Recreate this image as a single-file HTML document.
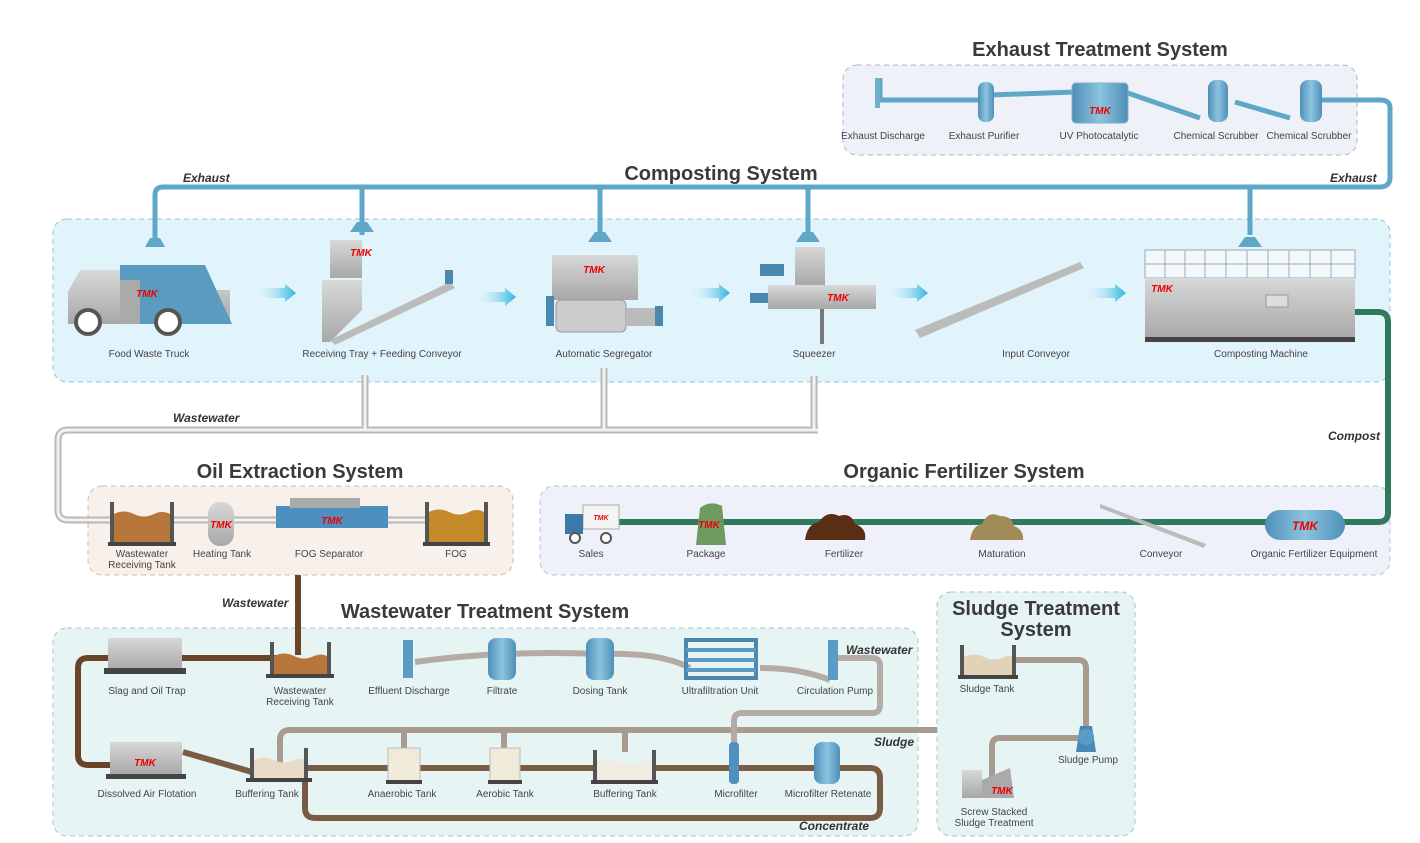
<!DOCTYPE html>
<html><head><meta charset="utf-8"><style>
html,body{margin:0;padding:0;background:#fff;}
svg{display:block;font-family:"Liberation Sans",sans-serif;}
.l{font-size:10px;fill:#444;text-anchor:middle;}
.t{font-size:20px;font-weight:bold;fill:#3a3a3a;text-anchor:middle;}
.p{font-size:12px;font-weight:bold;font-style:italic;fill:#333;}
.tmk{font-size:10px;font-weight:bold;font-style:italic;fill:#e00;text-anchor:middle;}
</style></head><body>
<svg width="1420" height="843" viewBox="0 0 1420 843" xmlns="http://www.w3.org/2000/svg">
<defs>
<linearGradient id="gr" x1="0" y1="0" x2="0" y2="1"><stop offset="0" stop-color="#d8d8d8"/><stop offset="1" stop-color="#a8a8a8"/></linearGradient>
<linearGradient id="bl" x1="0" y1="0" x2="1" y2="0"><stop offset="0" stop-color="#4f8fb8"/><stop offset=".5" stop-color="#8cc4e0"/><stop offset="1" stop-color="#4f8fb8"/></linearGradient>
<linearGradient id="ar" x1="0" y1="0" x2="1" y2="0"><stop offset="0" stop-color="#bfeaf7" stop-opacity="0"/><stop offset="1" stop-color="#2bb3de"/></linearGradient>
</defs>
<rect x="843" y="65" width="514" height="90" rx="14" fill="#eef1f8" stroke="#b0b8c4" stroke-dasharray="5,4"/>
<rect x="53" y="219" width="1337" height="163" rx="14" fill="#e1f3fb" stroke="#9fc0cf" stroke-dasharray="5,4"/>
<rect x="88" y="486" width="425" height="89" rx="14" fill="#f8f0ea" stroke="#d8b8a0" stroke-dasharray="5,4"/>
<rect x="540" y="486" width="850" height="89" rx="14" fill="#eef1f9" stroke="#b8c0d0" stroke-dasharray="5,4"/>
<rect x="53" y="628" width="865" height="208" rx="14" fill="#e7f4f4" stroke="#a8c4c4" stroke-dasharray="5,4"/>
<rect x="937" y="592" width="198" height="244" rx="14" fill="#e7f4f4" stroke="#a8c4c4" stroke-dasharray="5,4"/>
<text class="t" x="1100" y="56">Exhaust Treatment System</text>
<text class="t" x="721" y="180">Composting System</text>
<text class="t" x="300" y="478">Oil Extraction System</text>
<text class="t" x="964" y="478">Organic Fertilizer System</text>
<text class="t" x="485" y="618">Wastewater Treatment System</text>
<text class="t" x="1036" y="615">Sludge Treatment</text>
<text class="t" x="1036" y="636">System</text>
<g fill="none" stroke="#5ea7c7" stroke-width="5" stroke-linejoin="round">
<path d="M155 240 V195 Q155 187 163 187 H1380 Q1390 187 1390 177 V108 Q1390 100 1380 100 H1320"/>
<path d="M362 187V235 M600 187V235 M808 187V235 M1250 187V235"/>
<path d="M880 100 V78 M880 100 H985 M990 95 L1075 92 M1125 92 L1200 118 M1235 102 L1290 118"/>
</g>
<g fill="#5ea7c7">
<polygon points="145,247 165,247 160,238 150,238"/>
<polygon points="350,232 374,232 367,222 357,222"/>
<polygon points="588,242 612,242 605,232 595,232"/>
<polygon points="796,242 820,242 813,232 803,232"/>
<polygon points="1238,247 1262,247 1255,237 1245,237"/>
</g>
<rect x="875" y="78" width="5" height="30" fill="#6fb0cc"/>
<rect x="978" y="82" width="16" height="40" rx="7" fill="url(#bl)"/>
<rect x="1072" y="83" width="56" height="40" rx="4" fill="url(#bl)" stroke="#7fb0c8"/>
<text class="tmk" x="1100" y="114">TMK</text>
<rect x="1208" y="80" width="20" height="42" rx="8" fill="url(#bl)"/>
<rect x="1300" y="80" width="22" height="42" rx="8" fill="url(#bl)"/>
<text class="l" x="883" y="139">Exhaust Discharge</text>
<text class="l" x="984" y="139">Exhaust Purifier</text>
<text class="l" x="1099" y="139">UV Photocatalytic</text>
<text class="l" x="1216" y="139">Chemical Scrubber</text>
<text class="l" x="1309" y="139">Chemical Scrubber</text>
<text class="p" x="183" y="182">Exhaust</text>
<text class="p" x="1330" y="182">Exhaust</text>
<polygon points="68,292 80,270 120,270 120,290 230,290 230,324 68,324" fill="url(#gr)"/>
<polygon points="120,265 205,265 232,324 120,324" fill="#5a9cc0"/>
<polygon points="120,280 140,280 140,324 120,324" fill="#aaa"/>
<circle cx="88" cy="322" r="12" fill="#fff" stroke="#555" stroke-width="4"/>
<circle cx="168" cy="322" r="12" fill="#fff" stroke="#555" stroke-width="4"/>
<text class="tmk" x="147" y="297">TMK</text>
<rect x="330" y="240" width="32" height="38" fill="url(#gr)"/>
<polygon points="322,280 362,280 362,310 330,342 322,342" fill="url(#gr)"/>
<polygon points="330,340 450,282 455,288 335,345" fill="#bbb"/>
<rect x="445" y="270" width="8" height="14" fill="#4a88b0"/>
<text class="tmk" x="361" y="256">TMK</text>
<rect x="552" y="255" width="86" height="45" fill="url(#gr)"/>
<rect x="556" y="300" width="70" height="32" rx="5" fill="#ccc" stroke="#999"/>
<rect x="626" y="308" width="32" height="18" fill="#bbb"/>
<rect x="655" y="306" width="8" height="20" fill="#4a88b0"/>
<rect x="546" y="296" width="8" height="30" fill="#4a88b0"/>
<text class="tmk" x="594" y="273">TMK</text>
<rect x="795" y="247" width="30" height="38" fill="url(#gr)"/>
<rect x="768" y="285" width="108" height="24" fill="url(#gr)"/>
<rect x="760" y="264" width="24" height="12" fill="#4a88b0"/>
<rect x="750" y="293" width="18" height="10" fill="#4a88b0"/>
<rect x="820" y="309" width="4" height="35" fill="#777"/>
<text class="tmk" x="838" y="301">TMK</text>
<polygon points="915,330 1080,262 1084,268 920,338" fill="#bbb"/>
<rect x="1145" y="250" width="210" height="28" fill="#f3f8fb" stroke="#9ab"/>
<path d="M1145 264H1355 M1165 250V278 M1185 250V278 M1205 250V278 M1226 250V278 M1247 250V278 M1268 250V278 M1289 250V278 M1310 250V278 M1331 250V278" stroke="#9ab" fill="none"/>
<rect x="1145" y="278" width="210" height="60" fill="url(#gr)"/>
<rect x="1145" y="337" width="210" height="5" fill="#444"/>
<rect x="1266" y="295" width="22" height="12" fill="#ddd" stroke="#999"/>
<text class="tmk" x="1162" y="292">TMK</text>
<g fill="url(#ar)">
<polygon points="258,288 285,288 285,284 296,293 285,302 285,298 258,298"/>
<polygon points="478,292 505,292 505,288 516,297 505,306 505,302 478,302"/>
<polygon points="692,288 719,288 719,284 730,293 719,302 719,298 692,298"/>
<polygon points="890,288 917,288 917,284 928,293 917,302 917,298 890,298"/>
<polygon points="1088,288 1115,288 1115,284 1126,293 1115,302 1115,298 1088,298"/>
</g>
<text class="l" x="149" y="357">Food Waste Truck</text>
<text class="l" x="382" y="357">Receiving Tray + Feeding Conveyor</text>
<text class="l" x="604" y="357">Automatic Segregator</text>
<text class="l" x="814" y="357">Squeezer</text>
<text class="l" x="1036" y="357">Input Conveyor</text>
<text class="l" x="1261" y="357">Composting Machine</text>
<g fill="none" stroke-linejoin="round">
<path d="M365 375V430 M604 368V430 M814 376V430 M818 430H68 Q58 430 58 440 V510 Q58 520 68 520 H430" stroke="#b8b8b8" stroke-width="7"/>
<path d="M365 375V430 M604 368V430 M814 376V430 M818 430H68 Q58 430 58 440 V510 Q58 520 68 520 H430" stroke="#f2f2f2" stroke-width="3"/>
</g>
<text class="p" x="173" y="422">Wastewater</text>
<path d="M1355 312 H1378 Q1388 312 1388 322 V513 Q1388 522 1378 522 H592" fill="none" stroke="#2f7a5c" stroke-width="6"/>
<text class="p" x="1328" y="440">Compost</text>
<rect x="110" y="502" width="4" height="42" fill="#555"/><rect x="170" y="502" width="4" height="42" fill="#555"/>
<path d="M114 514 q10 -5 20 0 q10 5 20 0 q8 -4 16 0 V542 H114Z" fill="#b7773a"/>
<rect x="108" y="542" width="68" height="4" fill="#444"/>
<rect x="208" y="502" width="26" height="44" rx="12" fill="url(#gr)"/>
<text class="tmk" x="221" y="528">TMK</text>
<rect x="276" y="506" width="112" height="22" fill="#4d8fbf"/>
<rect x="290" y="498" width="70" height="10" fill="#aaa"/>
<text class="tmk" x="332" y="524">TMK</text>
<rect x="425" y="502" width="4" height="42" fill="#555"/><rect x="484" y="502" width="4" height="42" fill="#555"/>
<path d="M429 512 q10 -5 20 0 q10 5 20 0 q8 -4 15 0 V542 H429Z" fill="#c48a2a"/>
<rect x="423" y="542" width="67" height="4" fill="#444"/>
<text class="l" x="142" y="557">Wastewater</text><text class="l" x="142" y="568">Receiving Tank</text>
<text class="l" x="222" y="557">Heating Tank</text>
<text class="l" x="329" y="557">FOG Separator</text>
<text class="l" x="456" y="557">FOG</text>
<rect x="583" y="505" width="36" height="24" fill="#f5f5f5" stroke="#aaa"/>
<rect x="565" y="514" width="18" height="20" fill="#3c79a8"/>
<circle cx="575" cy="538" r="5" fill="#fff" stroke="#555" stroke-width="2"/><circle cx="606" cy="538" r="5" fill="#fff" stroke="#555" stroke-width="2"/>
<text class="tmk" x="601" y="520" style="font-size:7px">TMK</text>
<path d="M696 545 L700 508 Q710 500 722 506 L726 545Z" fill="#6e9a60"/>
<text class="tmk" x="709" y="528">TMK</text>
<path d="M805 540 q2 -16 14 -18 q8 -12 20 -6 q12 -4 16 8 q12 4 10 16Z" fill="#5a2e14"/>
<path d="M970 540 q2 -14 12 -16 q6 -14 18 -8 q12 0 14 10 q10 4 9 14Z" fill="#a08a58"/>
<polygon points="1100,504 1206,544 1204,548 1100,508" fill="#bbb"/>
<rect x="1265" y="510" width="80" height="30" rx="15" fill="url(#bl)"/>
<text class="tmk" x="1305" y="530" style="font-size:12px">TMK</text>
<text class="l" x="591" y="557">Sales</text>
<text class="l" x="706" y="557">Package</text>
<text class="l" x="844" y="557">Fertilizer</text>
<text class="l" x="1002" y="557">Maturation</text>
<text class="l" x="1161" y="557">Conveyor</text>
<text class="l" x="1314" y="557">Organic Fertilizer Equipment</text>
<g fill="none" stroke-linejoin="round">
<path d="M298 575V655 M290 658H88 Q78 658 78 668 V755 Q78 765 88 765 H110" stroke="#6a4428" stroke-width="6"/>
<path d="M183 752 L252 772 M300 768 H870 Q880 768 880 778 V808 Q880 818 870 818 H315 Q305 818 305 808 V780" stroke="#7a5c45" stroke-width="6"/>
<path d="M937 730 H290 Q280 730 280 740 V765 M404 730V748 M504 730V748 M625 730V752 M1010 660 H1078 Q1086 660 1086 668 V730 M1078 738 H1000 Q992 738 992 746 V785" stroke="#a89a8c" stroke-width="6"/>
<path d="M415 662 Q500 650 600 654 Q660 652 690 668 M760 668 Q800 668 830 680 M838 658 H872 Q880 658 880 666 V705 Q880 713 872 713 H742 Q734 713 734 721 V745" stroke="#b4aca4" stroke-width="6"/>
</g>
<rect x="108" y="638" width="74" height="32" fill="url(#gr)"/><rect x="104" y="668" width="82" height="6" fill="#444"/>
<rect x="270" y="642" width="4" height="34" fill="#555"/><rect x="327" y="642" width="4" height="34" fill="#555"/>
<path d="M274 656 q10 -5 20 0 q10 5 20 0 q7 -3 13 0 V674 H274Z" fill="#b7773a"/>
<rect x="266" y="674" width="68" height="4" fill="#444"/>
<rect x="403" y="640" width="10" height="38" fill="#5a9cc6"/>
<rect x="488" y="638" width="28" height="42" rx="8" fill="url(#bl)"/>
<rect x="586" y="638" width="28" height="42" rx="8" fill="url(#bl)"/>
<rect x="686" y="640" width="70" height="38" fill="none" stroke="#4a88b0" stroke-width="4"/>
<path d="M686 650H756 M686 660H756 M686 670H756" stroke="#5a9cc6" stroke-width="4"/>
<rect x="828" y="640" width="10" height="40" fill="#5a9cc6"/>
<rect x="110" y="742" width="72" height="32" fill="url(#gr)"/><rect x="106" y="774" width="80" height="5" fill="#444"/>
<text class="tmk" x="145" y="766">TMK</text>
<rect x="250" y="748" width="4" height="32" fill="#555"/><rect x="304" y="748" width="4" height="32" fill="#555"/>
<path d="M254 760 q10 -5 20 0 q10 5 20 0 q6 -3 10 0 V778 H254Z" fill="#e8dcc8"/>
<rect x="246" y="778" width="66" height="4" fill="#444"/>
<rect x="388" y="748" width="32" height="34" fill="#f0ead8" stroke="#bbb"/><rect x="386" y="780" width="36" height="4" fill="#444"/>
<rect x="490" y="748" width="30" height="34" fill="#f0ead8" stroke="#bbb"/><rect x="488" y="780" width="34" height="4" fill="#444"/>
<rect x="593" y="750" width="4" height="32" fill="#555"/><rect x="652" y="750" width="4" height="32" fill="#555"/>
<path d="M597 762 q10 -5 20 0 q10 5 20 0 q8 -3 15 0 V780 H597Z" fill="#f0ece2"/>
<rect x="591" y="780" width="67" height="4" fill="#444"/>
<rect x="729" y="742" width="10" height="42" rx="4" fill="#4f90bf"/>
<rect x="814" y="742" width="26" height="42" rx="8" fill="url(#bl)"/>
<text class="l" x="147" y="694">Slag and Oil Trap</text>
<text class="l" x="300" y="694">Wastewater</text><text class="l" x="300" y="705">Receiving Tank</text>
<text class="l" x="409" y="694">Effluent Discharge</text>
<text class="l" x="502" y="694">Filtrate</text>
<text class="l" x="600" y="694">Dosing Tank</text>
<text class="l" x="720" y="694">Ultrafiltration Unit</text>
<text class="l" x="835" y="694">Circulation Pump</text>
<text class="l" x="147" y="797">Dissolved Air Flotation</text>
<text class="l" x="267" y="797">Buffering Tank</text>
<text class="l" x="402" y="797">Anaerobic Tank</text>
<text class="l" x="505" y="797">Aerobic Tank</text>
<text class="l" x="625" y="797">Buffering Tank</text>
<text class="l" x="736" y="797">Microfilter</text>
<text class="l" x="828" y="797">Microfilter Retenate</text>
<text class="p" x="222" y="607">Wastewater</text>
<text class="p" x="846" y="654">Wastewater</text>
<text class="p" x="874" y="746">Sludge</text>
<text class="p" x="799" y="830">Concentrate</text>
<rect x="960" y="645" width="4" height="32" fill="#555"/><rect x="1012" y="645" width="4" height="32" fill="#555"/>
<path d="M964 657 q10 -5 20 0 q10 5 20 0 q5 -2 8 0 V675 H964Z" fill="#e2d2b8"/>
<rect x="958" y="675" width="60" height="4" fill="#444"/>
<path d="M1076 752 L1080 726 H1092 L1096 752Z" fill="#4a88b8"/><circle cx="1086" cy="737" r="8" fill="#5a9cc6"/>
<rect x="962" y="770" width="20" height="28" fill="url(#gr)"/>
<polygon points="982,780 1010,768 1014,798 982,798" fill="#aaa"/>
<text class="tmk" x="1002" y="794">TMK</text>
<text class="l" x="987" y="692">Sludge Tank</text>
<text class="l" x="1088" y="763">Sludge Pump</text>
<text class="l" x="994" y="815">Screw Stacked</text><text class="l" x="994" y="826">Sludge Treatment</text>
</svg>
</body></html>
